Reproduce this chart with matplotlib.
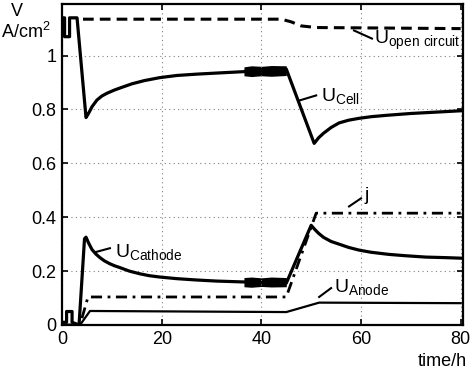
import matplotlib.pyplot as plt

plt.rcParams['font.family'] = ['Liberation Sans', 'DejaVu Sans']
plt.rcParams['mathtext.default'] = 'regular'

# time axis in hours, values in V or A/cm2
cell_t = [0, 0.5, 0.5, 1.5, 1.5, 3.0, 4.8, 5.3, 6.0, 7.0, 8.0, 9.0, 10.5, 12, 14, 16.5,
          19.6, 23, 27, 31, 36.2, 45, 50.6, 51.5, 52.5, 54, 55.6, 57.5, 59.6, 62, 65,
          70, 75, 80]
cell_v = [1.14, 1.14, 1.07, 1.07, 1.14, 1.14, 0.77, 0.785, 0.81, 0.835, 0.85, 0.86,
          0.872, 0.882, 0.895, 0.907, 0.918, 0.926, 0.931, 0.935, 0.94, 0.95, 0.674,
          0.695, 0.712, 0.733, 0.75, 0.76, 0.767, 0.773, 0.778, 0.785, 0.79, 0.795]
cell_band_t = [36.5, 38, 40, 42, 45]
cell_band_lo = [0.925, 0.922, 0.925, 0.923, 0.926]
cell_band_hi = [0.958, 0.962, 0.960, 0.963, 0.962]

ocv_t = [4.2, 44, 46, 48, 51, 80]
ocv_v = [1.135, 1.135, 1.125, 1.11, 1.104, 1.10]

cath_t = [0, 0.9, 0.9, 2.0, 2.0, 3.4, 4.5, 4.8, 5.3, 6.0, 6.8, 7.6, 8.5, 9.5, 10.5,
          11.6, 13.5, 15.6, 17.5, 19.6, 23, 27, 31, 36, 45, 50, 50.7, 51.5, 52.5, 54,
          55.6, 57.5, 59.6, 62, 65.6, 69, 73, 77, 80]
cath_v = [0.01, 0.01, 0.05, 0.05, 0.01, 0.0, 0.32, 0.326, 0.305, 0.28, 0.263, 0.25,
          0.238, 0.228, 0.22, 0.213, 0.2, 0.19, 0.183, 0.178, 0.172, 0.167, 0.163,
          0.16, 0.155, 0.37, 0.355, 0.34, 0.325, 0.31, 0.30, 0.288, 0.278, 0.27,
          0.262, 0.257, 0.252, 0.25, 0.248]
cath_band_t = [36.5, 38, 40, 42, 45]
cath_band_lo = [0.142, 0.140, 0.143, 0.141, 0.142]
cath_band_hi = [0.176, 0.178, 0.175, 0.178, 0.176]

j_t = [0, 3.6, 5.2, 45, 51, 80]
j_v = [0, 0, 0.104, 0.104, 0.415, 0.415]

anode_t = [0, 3.6, 5.6, 45, 51.6, 80]
anode_v = [0, 0, 0.052, 0.048, 0.083, 0.081]

fig = plt.figure(figsize=(4.74, 3.79), dpi=100)
ax = fig.add_axes([0.131, 0.1425, 0.845, 0.846])

ax.plot(cell_t, cell_v, color='black', lw=2.3)
ax.fill_between(cell_band_t, cell_band_lo, cell_band_hi, color='black', lw=0)
ax.plot(ocv_t, ocv_v, color='black', lw=2.2, ls=(0, (3.5, 2)))
ax.plot(cath_t, cath_v, color='black', lw=2.3)
ax.fill_between(cath_band_t, cath_band_lo, cath_band_hi, color='black', lw=0)
ax.plot(j_t, j_v, color='black', lw=2.0, ls=(0, (4, 2, 1, 2)))
ax.plot(anode_t, anode_v, color='black', lw=1.6)

ax.set_xlim(0, 80.4)
ax.set_ylim(0, 1.19)
ax.set_xticks([0, 20, 40, 60, 80])
ax.set_yticks([0, 0.2, 0.4, 0.6, 0.8, 1])
ax.set_yticklabels(['0', '0.2', '0.4', '0.6', '0.8', '1'])
ax.tick_params(direction='in', top=True, right=True, length=4, width=1.2,
               labelsize=13, pad=4)
ax.grid(True, ls=(0, (1, 3)), color='gray', lw=0.8)
for s in ax.spines.values():
    s.set_linewidth(1.6)

# curve labels with leader lines
lab = dict(fontsize=14, ha='left', va='baseline')
ax.plot([58.6, 62.2], [1.093, 1.063], color='black', lw=1.5)
ax.text(62.6, 1.044, r'U$_{open\ circuit}$', **lab)
ax.plot([47.6, 51], [0.833, 0.852], color='black', lw=1.5)
ax.text(52, 0.833, r'U$_{Cell}$', **lab)
ax.plot([6.6, 9.6], [0.27, 0.285], color='black', lw=1.5)
ax.text(10.6, 0.252, r'U$_{Cathode}$', **lab)
ax.plot([57.6, 60], [0.44, 0.47], color='black', lw=1.5)
ax.text(60.8, 0.465, 'j', **lab)
ax.plot([51.6, 54], [0.104, 0.137], color='black', lw=1.5)
ax.text(54.6, 0.122, r'U$_{Anode}$', **lab)

fig.text(17 / 474, 1 - 16 / 379, 'V', fontsize=13, ha='center', va='baseline')
fig.text(26 / 474, 1 - 38 / 379, 'A/cm$^2$', fontsize=13, ha='center', va='baseline')
fig.text(467 / 474, 1 - 366 / 379, 'time/h', fontsize=13, ha='right', va='baseline')

fig.savefig('out.png', dpi=100)
